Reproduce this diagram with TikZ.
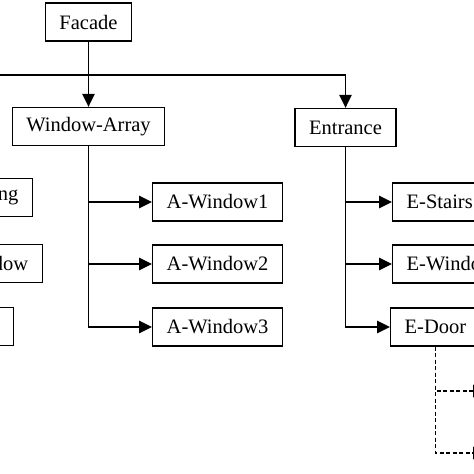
\documentclass[tikz,border=0pt]{standalone}
\usepackage{fontspec}
\setmainfont{Liberation Serif}
\usetikzlibrary{arrows.meta}
\begin{document}
\begin{tikzpicture}[x=1pt,y=-1pt,
  box/.style={draw, line width=1.4pt, minimum height=38pt, inner xsep=14pt, inner ysep=0pt, font=\fontsize{20.5}{24}\selectfont},
  conn/.style={line width=1.4pt, -{Triangle[length=13pt,width=12.5pt]}},
  dconn/.style={conn, dash pattern=on 4pt off 2.5pt}]
\useasboundingbox (0,0) rectangle (474,474);
\clip (0,0) rectangle (474,474);
% top
\node[box] (fa) at (88.5,22) {Facade};
\node[box] (wa) at (88.5,126.5) {Window-Array};
\node[box] (en) at (345.5,127.5) {Entrance};
% left partial boxes
\node[box, anchor=east, text width=80pt, align=right] (lb1) at (33,197.5) {ng};
\node[box, anchor=east, text width=80pt, align=right] (lb2) at (43,263.5) {dow};
\node[box, anchor=east, text width=80pt, align=right] (lb3) at (14,326.5) {};
% window array children
\node[box, anchor=west] (aw1) at (152,202) {A-Window1};
\node[box, anchor=west] (aw2) at (152,264) {A-Window2};
\node[box, anchor=west] (aw3) at (152,327) {A-Window3};
% entrance children
\node[box, anchor=west] (es) at (392,202) {E-Stairs};
\node[box, anchor=west] (ew) at (392,264) {E-Window};
\node[box, anchor=west] (ed) at (390,327) {E-Door};
% connectors
\coordinate (jl) at (0,75);
\draw[conn] (fa.south) -- (wa.north);
\draw[conn] (jl) -| (en.north);
\draw[conn] (wa.south) |- (aw1.west);
\draw[conn] (wa.south) |- (aw2.west);
\draw[conn] (wa.south) |- (aw3.west);
\draw[conn] (en.south) |- (es.west);
\draw[conn] (en.south) |- (ew.west);
\draw[conn] (en.south) |- (ed.west);
\coordinate (d1) at (486,391);
\coordinate (d2) at (486,453);
\draw[dconn] (ed.south) |- (d1);
\draw[dconn] (ed.south) |- (d2);
\end{tikzpicture}
\end{document}
